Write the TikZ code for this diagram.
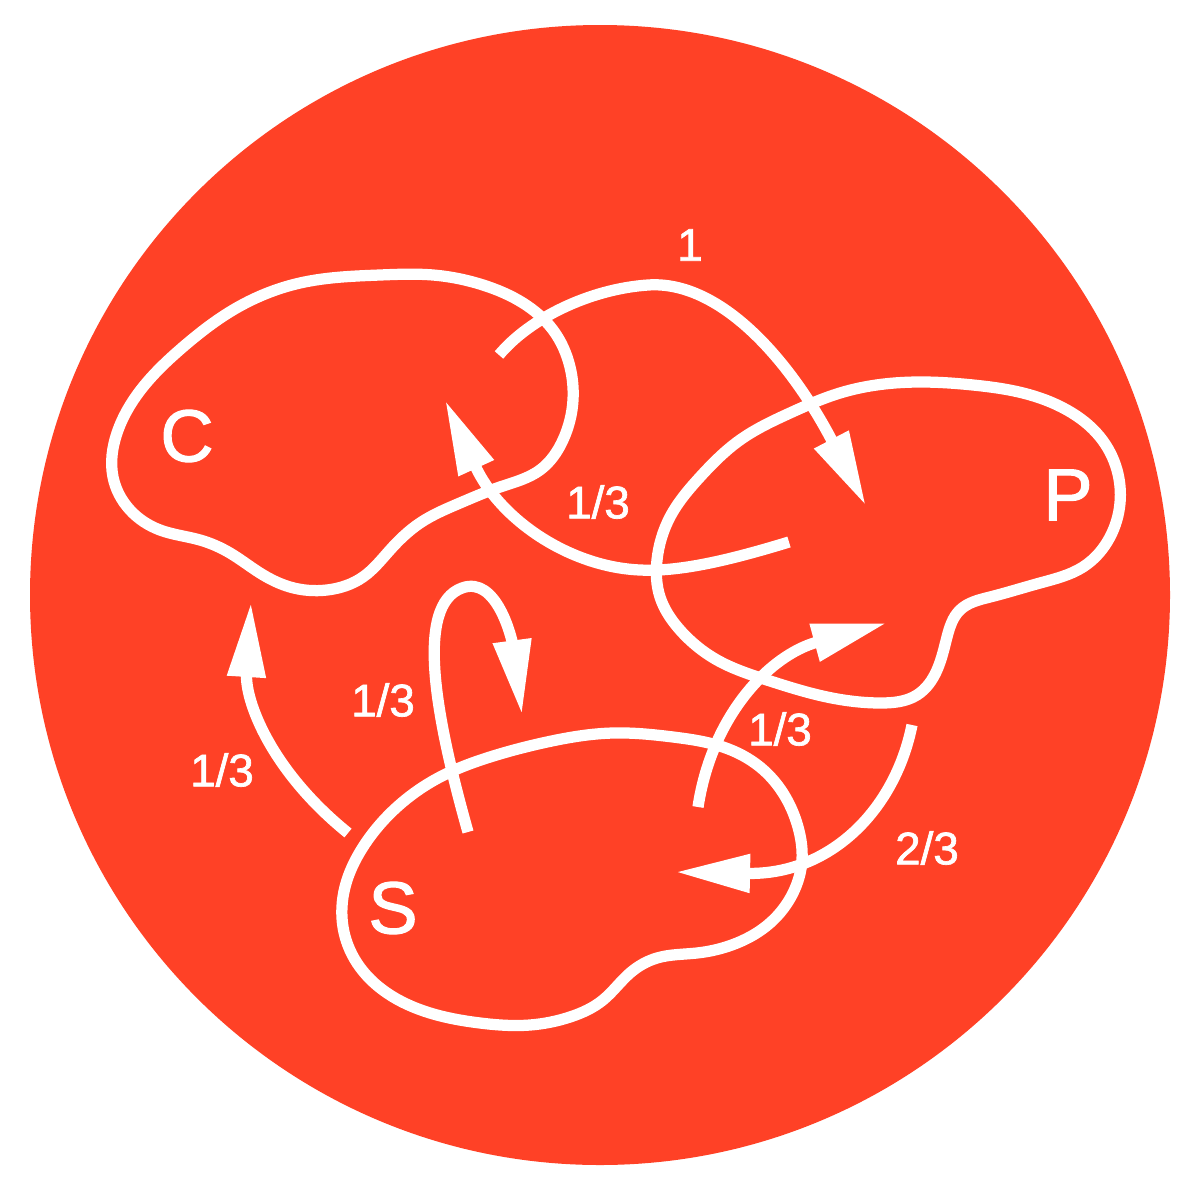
\documentclass[tikz,border=0pt]{standalone}
\usepackage{fontspec}
\setmainfont{Liberation Sans}
\newfontfamily\markfont{Liberation Sans}[FakeBold=1.5]
\usepackage{xcolor}
\usepackage{tikz}
\usetikzlibrary{arrows.meta, hobby}
\definecolor{disc}{RGB}{255,65,38}

\begin{document}
\begin{tikzpicture}[x=0.01cm, y=-0.01cm,
        blob/.style={draw=white, line width=3.2pt},
        arc/.style={draw=white, line width=3.2pt,
        -{Triangle[length=0.75cm,width=0.36cm]}},
        letter/.style={text=white, font=\markfont\fontsize{21}{25}\selectfont},
        frac/.style={text=white, font=\markfont\fontsize{13}{15}\selectfont}]
        \useasboundingbox (0,0) rectangle (1200,1200);
        \fill[white] (0,0) rectangle (1200,1200);
        \fill[disc] (600,595) circle (570);
        \draw[blob] plot[closed hobby] coordinates {(380,275) (300,283)
        (233,310) (183,347) (143,387) (117,433) (113,477) (130,510) (160,530)
        (200,540) (230,553) (260,573) (290,587) (327,590) (363,577) (390,550)
        (420,523) (460,503) (500,487) (540,470) (563,440) (573,400) (570,367)
        (553,330) (523,303) (483,285) (433,275)};
        \draw[blob] plot[closed hobby] coordinates {(923,382) (840,393)
        (790,413) (740,440) (700,477) (670,517) (657,560) (660,597) (680,630)
        (717,660) (767,680) (827,697) (880,703) (917,695) (937,670) (947,637)
        (960,610) (990,597) (1040,583) (1083,567) (1110,537) (1120,503)
        (1117,470) (1100,437) (1067,410) (1023,393) (973,385)};
        \draw[blob] plot[closed hobby] coordinates {(613,733) (547,742)
        (490,757) (440,777) (397,807) (363,847) (345,887) (343,927) (357,963)
        (387,993) (430,1013) (480,1023) (530,1025) (570,1017) (603,1000)
        (630,973) (657,958) (697,953) (737,943) (770,923) (793,893)
        (802,860) (798,827) (783,793) (760,767) (723,747) (673,737)};
        \coordinate (a1) at (499,355); \coordinate (t1) at (648,285);
        \coordinate (b1) at (866,506);
        \coordinate (a2) at (789,542); \coordinate (t2) at (640,570);
        \coordinate (b2) at (445,400);
        \coordinate (a3) at (468,832); \coordinate (t3) at (462,588);
        \coordinate (b3) at (522,715);
        \coordinate (a4) at (348,833); \coordinate (b4) at (251,602);
        \coordinate (a5) at (698,807); \coordinate (b5) at (887,623);
        \coordinate (a6) at (912,725); \coordinate (b6) at (675,872);
        \draw[arc] (a1) .. controls (530,318) and (590,289) .. (t1)
        .. controls (720,280) and (790,360) .. (b1);
        \draw[arc] (a2) .. controls (730,560) and (680,572) .. (t2)
        .. controls (570,567) and (500,520) .. (b2);
        \draw[arc] (a3) .. controls (435,715) and (415,605) .. (t3)
        .. controls (497,575) and (512,640) .. (b3);
        \draw[arc] (a4) .. controls (270,770) and (245,700) .. (b4);
        \draw[arc] (a5) .. controls (712,715) and (770,655) .. (b5);
        \draw[arc] (a6) .. controls (895,810) and (830,875) .. (b6);
        \node[letter] (C) at (187,436) {C};
        \node[letter] (P) at (1068,495) {P};
        \node[letter] (S) at (393,908) {S};
        \node[frac] (one) at (690,245) {1};
        \foreach \n/\x/\y/\k in {w2/598/502/1, w3/383/700/1, w4/222/770/1,
        w5/780/729/1, w6/927/848/2}
        \node[frac] (\n) at (\x,\y) {\k/3};
    \end{tikzpicture}
\end{document}
